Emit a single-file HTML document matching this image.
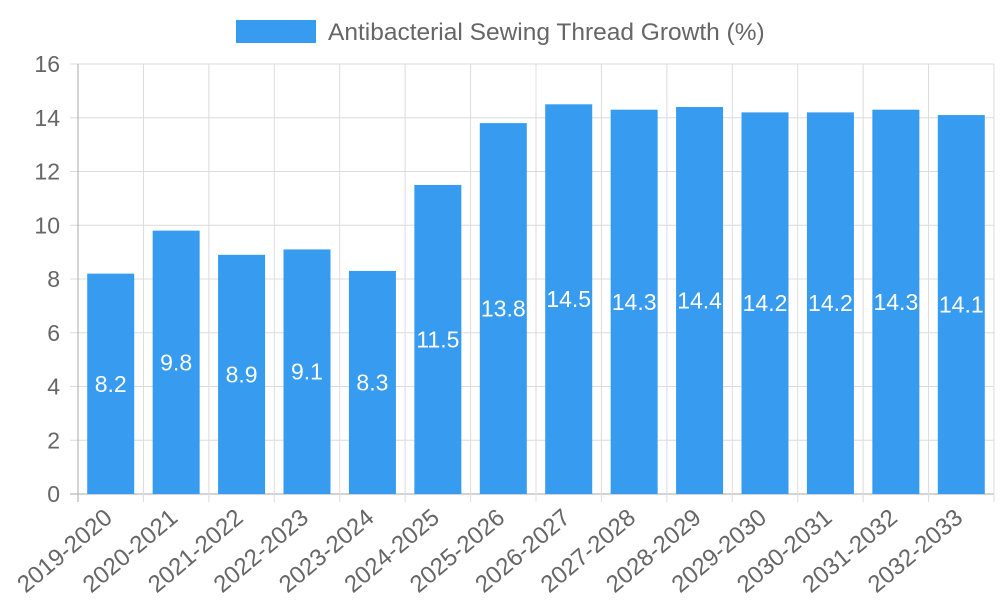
<!DOCTYPE html>
<html><head><meta charset="utf-8"><style>
html,body{margin:0;padding:0;background:#fff;}
svg{display:block;font-family:"Liberation Sans",sans-serif;}
</style></head><body>
<svg id="chart" width="1000" height="600">
<g>
<rect x="236" y="20" width="80" height="23" fill="#379bf0"/>
<text x="328" y="40" font-size="24.5" fill="#666">Antibacterial Sewing Thread Growth (%)</text>
</g>
<g id="grid"></g>
<g id="bars"></g>
<g id="axes"></g>
</svg>
<script>
const categories=["2019-2020","2020-2021","2021-2022","2022-2023","2023-2024","2024-2025","2025-2026","2026-2027","2027-2028","2028-2029","2029-2030","2030-2031","2031-2032","2032-2033"];
const values=[8.2,9.8,8.9,9.1,8.3,11.5,13.8,14.5,14.3,14.4,14.2,14.2,14.3,14.1];
const yTicks=[0,2,4,6,8,10,12,14,16];
const NS="http://www.w3.org/2000/svg";
const L=78,R=994,T=64,B=494,yMax=16;
const step=(R-L)/categories.length;
const x=i=>L+i*step;
const y=v=>B-(v/yMax)*(B-T);
function mk(tag,attrs,parent){const e=document.createElementNS(NS,tag);for(const k in attrs)e.setAttribute(k,attrs[k]);parent.appendChild(e);return e;}
const grid=document.getElementById('grid'),bars=document.getElementById('bars'),axes=document.getElementById('axes');
yTicks.forEach(t=>{
 const l=mk('line',{x1:L-8,x2:R,y1:y(t),y2:y(t),stroke:t===0?'#aaa':'#dcdcdc','stroke-width':1},grid);
 
 
 const tx=mk('text',{x:L-18,y:y(t)+8,'text-anchor':'end','font-size':23,fill:'#666'},axes);
 tx.textContent=t;
 
 
});
for(let i=0;i<=categories.length;i++){
 const l=mk('line',{x1:x(i),x2:x(i),y1:T,y2:B+8,stroke:i===0?'#aaa':'#dcdcdc','stroke-width':1},grid);
 
 
}
const bw=47;
categories.forEach((c,i)=>{
 const cx=x(i)+step/2;
 const r=mk('rect',{x:cx-bw/2,y:y(values[i]),width:bw,height:B-y(values[i]),fill:'#379bf0'},bars);
 
 
 const v=mk('text',{x:cx,y:(y(values[i])+B)/2+8,'text-anchor':'middle','font-size':23,fill:'#fff'},bars);
 v.textContent=values[i];
 
 
 const ax=cx+3,ay=B+26;
 const lb=mk('text',{x:ax,y:ay,'text-anchor':'end','font-size':24,fill:'#666',transform:`rotate(-40 ${ax} ${ay})`},axes);
 lb.textContent=c;
 
 
});
</script>
</body></html>
